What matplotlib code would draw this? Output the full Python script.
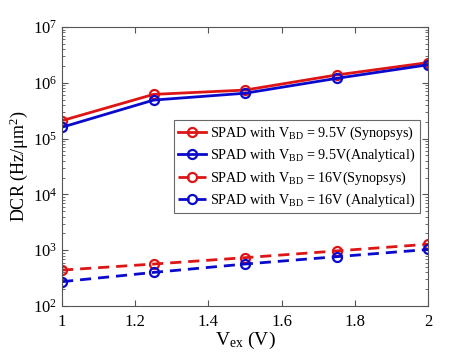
import matplotlib
matplotlib.use("Agg")
import matplotlib.pyplot as plt
from matplotlib.ticker import LogLocator, NullFormatter

# data
v_ex = [1.0, 1.25, 1.5, 1.75, 2.0]
dcr_95_synopsys = [2.1e5, 6.2e5, 7.4e5, 1.38e6, 2.3e6]
dcr_95_analytical = [1.6e5, 4.9e5, 6.5e5, 1.2e6, 2.1e6]
dcr_16_synopsys = [440, 565, 735, 970, 1280]
dcr_16_analytical = [273, 400, 565, 765, 1030]

labels = [
    r"SPAD with V$_{\mathrm{BD}}$ = 9.5V (Synopsys)",
    r"SPAD with V$_{\mathrm{BD}}$ = 9.5V(Analytical)",
    r"SPAD with V$_{\mathrm{BD}}$ = 16V(Synopsys)",
    r"SPAD with V$_{\mathrm{BD}}$ = 16V (Analytical)",
]

RED = "#DD1515"
BLUE = "#0A0ACC"

plt.rcParams.update({
    "font.family": "Liberation Serif",
    "mathtext.fontset": "custom",
    "mathtext.rm": "Liberation Serif",
    "mathtext.it": "Liberation Serif:italic",
    "font.size": 11,
})

fig = plt.figure(figsize=(4.74, 3.55), dpi=100)
ax = fig.add_axes([0.131, 0.138, 0.772, 0.786])

line_kw = dict(linewidth=2.0, marker="o", markersize=6.5,
               markerfacecolor="none", markeredgewidth=1.6)
ax.plot(v_ex, dcr_95_synopsys, color=RED, label=labels[0], **line_kw)
ax.plot(v_ex, dcr_95_analytical, color=BLUE, label=labels[1], **line_kw)
ax.plot(v_ex, dcr_16_synopsys, color=RED, linestyle=(0, (4, 2.5)),
        label=labels[2], **line_kw)
ax.plot(v_ex, dcr_16_analytical, color=BLUE, linestyle=(0, (4, 2.5)),
        label=labels[3], **line_kw)

ax.set_yscale("log")
ax.set_xlim(1, 2)
ax.set_ylim(1e2, 1e7)
ax.set_xticks([1, 1.2, 1.4, 1.6, 1.8, 2])
ax.set_xticklabels(["1", "1.2", "1.4", "1.6", "1.8", "2"])
ax.yaxis.set_major_locator(LogLocator(base=10, numticks=10))
ax.yaxis.set_minor_locator(LogLocator(base=10, subs=range(2, 10), numticks=20))
ax.yaxis.set_minor_formatter(NullFormatter())

ax.tick_params(which="both", direction="in", top=True, right=True,
               labelsize=12, color="#555555")
ax.tick_params(which="major", length=4)
ax.tick_params(which="minor", length=2)
ax.tick_params(axis="x", pad=6)
for s in ax.spines.values():
    s.set_color("#555555")
    s.set_linewidth(0.8)

ax.set_xlabel(r"V$_{\mathrm{ex}}$ (V)", fontsize=14, labelpad=0)
ax.set_ylabel(r"DCR (Hz/$\mathrm{\mu}$m$^2$)", fontsize=13, labelpad=2)

leg = ax.legend(loc="upper right", bbox_to_anchor=(0.978, 0.665),
                fontsize=10.2, frameon=True, fancybox=False,
                handlelength=2.0, handletextpad=0.3, labelspacing=0.35,
                borderpad=0.3, borderaxespad=0)
leg.get_frame().set_edgecolor("#444444")
leg.get_frame().set_linewidth(0.8)

fig.savefig("out.png", dpi=100)
